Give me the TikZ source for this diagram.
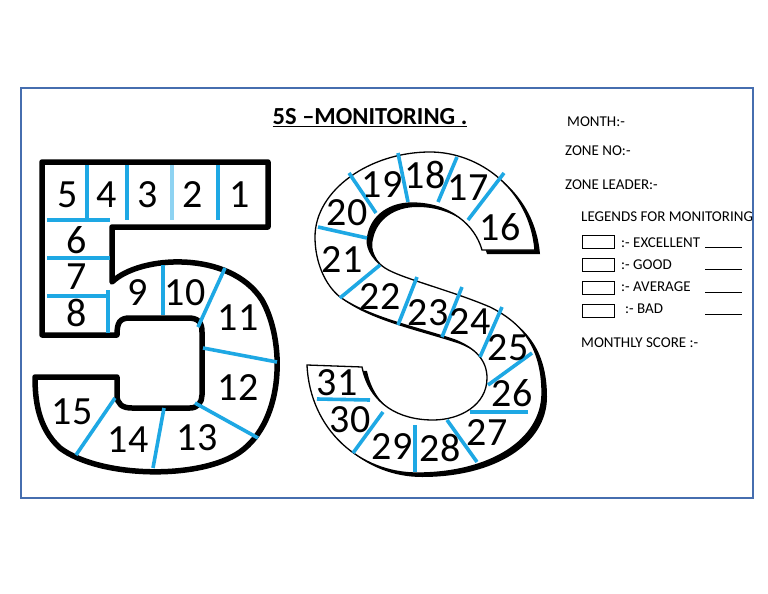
\documentclass[tikz,border=0pt]{standalone}
\usepackage{fontspec}
\setmainfont{Carlito}
\begin{document}
\begin{tikzpicture}[x=1pt,y=-1pt,
  div/.style={draw=sky,line width=3.6pt},
  num/.style={font=\fontsize{40}{40}\selectfont,inner sep=0pt},
  lbl/.style={font=\fontsize{15}{15}\selectfont,anchor=west,inner sep=0pt},
  lbox/.style={draw,line width=0.8pt,minimum width=32pt,minimum height=13pt,inner sep=0pt}]
\definecolor{sky}{RGB}{30,168,228}
\definecolor{frame}{RGB}{70,110,175}
\useasboundingbox (0,0) rectangle (768,594);
\fill[white] (0,0) rectangle (768,594);
\draw[frame,line width=1.6pt] (21,88) rectangle (753,498);
\node[font=\bfseries\fontsize{24.5}{24.5}\selectfont,inner sep=1pt] (title) at (370,118) {\underline{5S –MONITORING .}};
% ---- the 5
\draw[line width=5.5pt,line join=round,fill=white] (42,162) -- (268,162) -- (268,227) -- (112,227) -- (112,282)
 .. controls (140,255) and (230,250) .. (262,300) .. controls (285,340) and (285,420) .. (240,452)
 .. controls (200,480) and (100,478) .. (60,448) .. controls (38,428) and (35,400) .. (35,377)
 -- (117,377) -- (117,395) .. controls (117,404) and (122,408) .. (132,408) -- (190,408)
 .. controls (198,408) and (202,402) .. (202,395) -- (202,332) .. controls (202,322) and (198,318) .. (188,318)
 -- (130,318) .. controls (120,318) and (117,322) .. (117,335) -- (42,335) -- cycle;
\draw[div] (87,165) -- (87,220);
\draw[div] (127,165) -- (127,220);
\draw[div,draw=sky!50] (172,165) -- (172,220);
\draw[div] (218,165) -- (218,220);
\draw[div] (47,220) -- (110,220);
\draw[div] (47,258) -- (110,258);
\draw[div] (47,296) -- (108,296);
\draw[div] (108,290) -- (108,333);
\draw[div] (163,265) -- (163,315);
\draw[div] (225,268) -- (198,327);
\draw[div] (203,348) -- (277,362);
\draw[div] (195,403) -- (258,438);
\draw[div] (164,408) -- (153,468);
\draw[div] (115,398) -- (76,455);
\foreach \t/\x/\y in {5/68/195,4/107/195,3/148/195,2/193/195,1/240/195,6/77/240,7/77/277,8/77/313,
  9/138/293,10/185/293,11/238/318,12/238/388,13/197/438,14/128/440,15/72/412}
  \node[num] (n\t) at (\x,\y) {\t};
% ---- the S
\def\Spath{(535,250) .. controls (530,190) and (480,152) .. (430,152) .. controls (370,152) and (315,190) .. (315,237)
 .. controls (315,262) and (325,285) .. (340,297) .. controls (370,318) and (420,328) .. (455,340)
 .. controls (475,348) and (487,360) .. (487,378) .. controls (487,405) and (460,420) .. (433,420)
 .. controls (400,420) and (370,405) .. (362,367) -- (307,365) .. controls (310,430) and (360,473) .. (417,473)
 .. controls (490,473) and (542,440) .. (542,393) .. controls (542,345) and (520,322) .. (490,307)
 .. controls (450,290) and (400,278) .. (385,268) .. controls (370,258) and (365,245) .. (368,235)
 .. controls (372,215) and (390,203) .. (412,203) .. controls (450,203) and (475,225) .. (482,250) -- cycle}
\fill[black,xshift=5pt,yshift=-4pt] \Spath;
\draw[line width=1.3pt,fill=white] \Spath;
\draw[div] (504,173) -- (468,220);
\draw[div] (457,157) -- (438,202);
\draw[div] (398,153) -- (408,202);
\draw[div] (349,173) -- (376,213);
\draw[div] (318,227) -- (367,238);
\draw[div] (340,298) -- (380,265);
\draw[div] (417,277) -- (398,325);
\draw[div] (462,287) -- (442,337);
\draw[div] (502,307) -- (480,357);
\draw[div] (532,353) -- (488,385);
\draw[div] (528,412) -- (470,412);
\draw[div] (477,462) -- (447,420);
\draw[div] (415,425) -- (415,472);
\draw[div] (383,412) -- (353,453);
\draw[div] (317,399) -- (370,400);
\foreach \t/\x/\y in {16/500/227,17/468/188,18/425/175,19/382/185,20/347/213,21/342/260,22/380/297,
  23/428/313,24/470/322,25/508/348,26/512/393,27/487/433,28/440/448,29/392/447,30/350/420,31/337/383}
  \node[num] (n\t) at (\x,\y) {\t};
% ---- right panel
\node[lbl] (month) at (567,122) {MONTH:-};
\node[lbl] (zone) at (565,151) {ZONE NO:-};
\node[lbl] (leader) at (565,185) {ZONE LEADER:-};
\node[lbl] (leg) at (581,217) {LEGENDS FOR MONITORING};
\node[lbox] (b1) at (598,242) {};
\node[lbox] (b2) at (598,265) {};
\node[lbox] (b3) at (598,288) {};
\node[lbox] (b4) at (598,311) {};
\node[lbl] (t1) at (621,243) {:- EXCELLENT};
\node[lbl] (t2) at (621,265) {:- GOOD};
\node[lbl] (t3) at (621,287) {:- AVERAGE};
\node[lbl] (t4) at (625,309) {:- BAD};
\coordinate (u1a) at (705,247); \coordinate (u1b) at (742,247);
\coordinate (u2a) at (705,269); \coordinate (u2b) at (742,269);
\coordinate (u3a) at (705,292); \coordinate (u3b) at (742,292);
\coordinate (u4a) at (705,314); \coordinate (u4b) at (742,314);
\draw[line width=0.8pt] (u1a) -- (u1b) (u2a) -- (u2b) (u3a) -- (u3b) (u4a) -- (u4b);
\node[lbl] (score) at (581,343) {MONTHLY SCORE :-};
\end{tikzpicture}
\end{document}
